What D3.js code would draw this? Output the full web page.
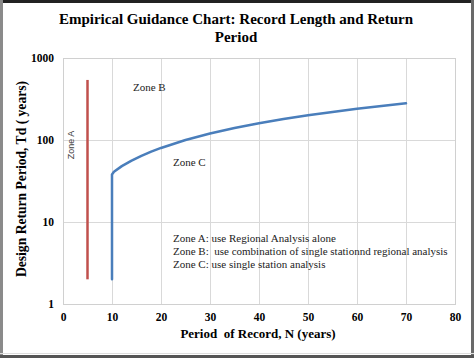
<!DOCTYPE html>
<html><head><meta charset="utf-8">
<script src="https://cdn.jsdelivr.net/npm/d3@7"></script>
<style>
html,body{margin:0;padding:0;background:#fff;}
svg{display:block;}
</style></head>
<body>
<svg id="chart" width="474" height="358"></svg>
<script>
// Data
const xTicks = [0,10,20,30,40,50,60,70,80];
const yTicks = [1,10,100,1000];
const zoneA_N = [5, 5];
const zoneA_T = [2, 540];
const curveN = [10, 10, 10.4, 12, 14, 16, 18, 20, 25, 30, 35, 40, 45, 50, 55, 60, 65, 70];
const curveT = [2, 38, 41, 48, 56, 64, 72, 80, 100, 120, 140, 160, 180, 200, 220, 240, 260, 280];
const titleLines = ["Empirical Guidance Chart: Record Length and Return", "Period"];
const notes = ["Zone A: use Regional Analysis alone",
               "Zone B:  use combination of single stationnd regional analysis",
               "Zone C: use single station analysis"];

const svg = d3.select("#chart");
const W = 474, H = 358;
const m = {left:63, right:455, top:58, bottom:304};

// frame
svg.append("rect").attr("x",0).attr("y",0).attr("width",W).attr("height",H).attr("fill","#fff");
svg.append("rect").attr("x",0).attr("y",0).attr("width",W).attr("height",3).attr("fill","#222");
svg.append("rect").attr("x",0).attr("y",0).attr("width",3).attr("height",H).attr("fill","#8a8a8a");
svg.append("rect").attr("x",W-3).attr("y",0).attr("width",3).attr("height",H).attr("fill","#6a6a6a");
svg.append("rect").attr("x",0).attr("y",H-3).attr("width",W).attr("height",3).attr("fill","#555");
svg.append("rect").attr("x",0).attr("y",H-5).attr("width",W).attr("height",1).attr("fill","#ddd");

const x = d3.scaleLinear().domain([0,80]).range([m.left, m.right]);
const y = d3.scaleLog().domain([1,1000]).range([m.bottom, m.top]);

// gridlines
svg.append("g").selectAll("line").data(xTicks).join("line")
  .attr("x1",d=>x(d)+0.5).attr("x2",d=>x(d)+0.5).attr("y1",m.top).attr("y2",m.bottom)
  .attr("stroke","#d9d9d9").attr("stroke-width",1);
svg.append("g").selectAll("line").data(yTicks).join("line")
  .attr("x1",m.left).attr("x2",m.right).attr("y1",d=>Math.round(y(d))+0.5).attr("y2",d=>Math.round(y(d))+0.5)
  .attr("stroke","#d9d9d9").attr("stroke-width",1);
svg.append("rect").attr("x",m.left+0.5).attr("y",m.top+0.5).attr("width",m.right-m.left).attr("height",m.bottom-m.top)
  .attr("fill","none").attr("stroke","#d0d0d0");

// axes (labels only)
const xAxis = d3.axisBottom(x).tickValues(xTicks).tickSize(0).tickPadding(9).tickFormat(d3.format("d"));
const gx = svg.append("g").attr("transform",`translate(0,${m.bottom})`).call(xAxis);
gx.select(".domain").remove();
gx.selectAll("text").attr("font-family","'Liberation Serif', serif").attr("font-weight","bold")
  .attr("font-size","11.5px").attr("fill","#000");
const yAxis = d3.axisLeft(y).tickValues(yTicks).tickSize(0).tickPadding(9).tickFormat(d3.format("d"));
const gy = svg.append("g").attr("transform",`translate(${m.left},0)`).call(yAxis);
gy.select(".domain").remove();
gy.selectAll("text").attr("font-family","'Liberation Serif', serif").attr("font-weight","bold")
  .attr("font-size","11.5px").attr("fill","#000");

// lines
const line = d3.line().x(d=>x(d[0])).y(d=>y(d[1]));
svg.append("path").datum(d3.zip(zoneA_N, zoneA_T)).attr("d",line)
  .attr("fill","none").attr("stroke","#C0504D").attr("stroke-width",2.5);
svg.append("path").datum(d3.zip(curveN, curveT)).attr("d",line.curve(d3.curveLinear))
  .attr("fill","none").attr("stroke","#4A7EBB").attr("stroke-width",2.5)
  .attr("stroke-linejoin","round").attr("stroke-linecap","round");

// title
svg.append("g").selectAll("text").data(titleLines).join("text")
  .attr("x",236).attr("y",(d,i)=>24+i*18).attr("text-anchor","middle")
  .attr("font-family","'Liberation Serif', serif").attr("font-weight","bold").attr("font-size","15px")
  .text(d=>d);

// axis titles
svg.append("text").attr("x",258).attr("y",338).attr("text-anchor","middle")
  .attr("font-family","'Liberation Serif', serif").attr("font-weight","bold").attr("font-size","13px")
  .attr("xml:space","preserve").text("Period  of Record, N (years)");
svg.append("text").attr("transform","translate(26,179) rotate(-90)").attr("text-anchor","middle")
  .attr("font-family","'Liberation Serif', serif").attr("font-weight","bold").attr("font-size","13.6px")
  .text("Design Return Period, Td ( years)");

// zone labels
svg.append("text").attr("transform","translate(74,145) rotate(-90)").attr("text-anchor","middle")
  .attr("font-family","'Liberation Sans', sans-serif").attr("font-size","9px").attr("fill","#404040")
  .text("Zone A");
svg.append("text").attr("x",133).attr("y",91)
  .attr("font-family","'Liberation Serif', serif").attr("font-size","11px").attr("fill","#222")
  .text("Zone B");
svg.append("text").attr("x",173).attr("y",166)
  .attr("font-family","'Liberation Serif', serif").attr("font-size","11px").attr("fill","#222")
  .text("Zone C");
svg.append("g").selectAll("text").data(notes).join("text")
  .attr("x",173).attr("y",(d,i)=>242+i*13)
  .attr("font-family","'Liberation Serif', serif").attr("font-size","11px").attr("fill","#222")
  .attr("xml:space","preserve").text(d=>d);
</script>
</body></html>
